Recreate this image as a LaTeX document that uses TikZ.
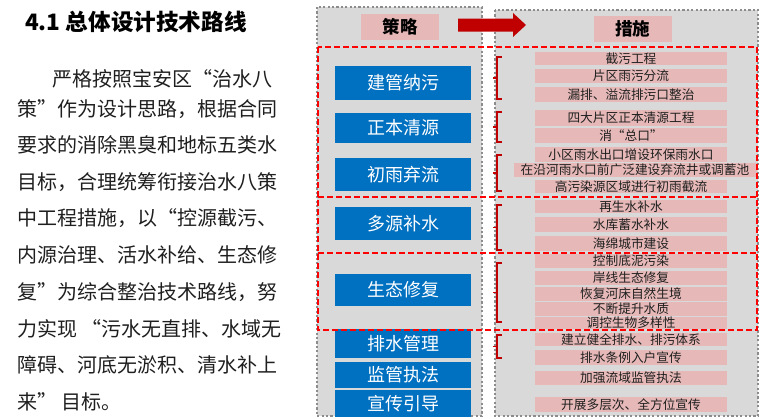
\documentclass[tikz,border=0pt]{standalone}
\usepackage{fontspec}
\setmainfont{Noto Sans CJK SC}
\definecolor{panelgrey}{HTML}{D9D9D9}
\definecolor{dotgrey}{HTML}{8C8C8C}
\definecolor{pinkfill}{HTML}{E6B9B8}
\definecolor{blueblk}{HTML}{0070C0}
\definecolor{darkred}{HTML}{C00000}
\definecolor{txt}{HTML}{1F1F1F}
\begin{document}
\begin{tikzpicture}[x=1pt,y=-1pt,
  panel/.style={fill=panelgrey, draw=dotgrey, line width=2.2pt, dash pattern=on 2.2pt off 2.2pt},
  headbox/.style={fill=pinkfill, inner sep=0pt, minimum width=78pt, minimum height=26pt, text height=13.3pt, text depth=0pt, font=\fontsize{17.5}{17.5}\selectfont\bfseries, text=black},
  stratbox/.style={fill=blueblk, inner sep=0pt, minimum width=136pt, text=white, text height=13.7pt, text depth=0pt, font=\fontsize{18}{18}\selectfont},
  meas/.style={fill=pinkfill, inner sep=0pt, text=txt, text height=9.6pt, text depth=0pt, font=\fontsize{12.7}{12.7}\selectfont},
  bodyline/.style={anchor=base west, inner sep=0pt, text=txt, font=\fontsize{20}{20}\selectfont},
  bracket/.style={draw=darkred, line width=1.2pt},
  blockarrow/.style={fill=darkred},
  reddash/.style={draw=red, line width=2.3pt, dash pattern=on 6pt off 3pt}
]
\useasboundingbox (0,0) rectangle (760,418);

% title and body text
\node[anchor=base west, inner sep=0pt, text=black, font=\fontsize{22.6}{22.6}\selectfont\bfseries] (title) at (25,30.6) {4.1 总体设计技术路线};
\node[bodyline] (l1) at (52,86) {严格按照宝安区“治水八};
\node[bodyline] (l2) at (17,116) {策”作为设计思路，根据合同};
\node[bodyline] (l3) at (17,152.5) {要求的消除黑臭和地标五类水};
\node[bodyline] (l4) at (17,189) {目标，合理统筹衔接治水八策};
\node[bodyline] (l5) at (17,225.5) {中工程措施，以“控源截污、};
\node[bodyline] (l6) at (17,262) {内源治理、活水补给、生态修};
\node[bodyline] (l7) at (17,299) {复”为综合整治技术路线，努};
\node[bodyline] (l8) at (17,336) {力实现 “污水无直排、水域无};
\node[bodyline] (l9) at (17,372.5) {障碍、河底无淤积、清水补上};
\node[bodyline] (l10) at (17,409) {来” 目标。};

% panels
\draw[panel] (317,7) rectangle (482,416);
\draw[panel] (495,10) rectangle (758,416);

% headers and arrow
\node[headbox] (ce) at (400,27) {策略};
\node[headbox] (cs) at (632.5,29) {措施};
\fill[blockarrow] (458,18.5) -- (513,18.5) -- (513,13) -- (526,25) -- (513,37) -- (513,31.5) -- (458,31.5) -- cycle;

% strategy boxes
\foreach \t/\b/\txt [count=\i] in {66/100/建管纳污, 113/143/正本清源, 158/191/初雨弃流, 207/240/多源补水, 274/306/生态修复, 329/358/排水管理, 362/388/监管执法, 390/417/宣传引导}{
  \node[stratbox, minimum height={(\b-\t)*1pt}] (s\i) at (403,{(\t+\b)/2}) {\txt};
}

% measure boxes
\foreach \t/\b/\txt [count=\i] in {52/65/截污工程, 69/83/片区雨污分流, 87/102/漏排、溢流排污口整治, 110/126/四大片区正本清源工程, 128/143/消“总口”, 147/162/小区雨水出口增设环保雨水口, 180/193/高污染源区域进行初雨截流, 200/213/再生水补水, 217/232/水库蓄水补水, 236/251/海绵城市建设, 254/268/控制底泥污染, 271/285/岸线生态修复, 287/301/恢复河床自然生境, 302/316/不断提升水质, 317/329/调控生物多样性, 333/346/建立健全排水、排污体系, 350/365/排水条例入户宣传, 371/385/加强流域监管执法, 397/412/开展多层次、全方位宣传}{
  \node[meas, minimum width=192pt, minimum height={(\b-\t)*1pt}] (m\i) at (631,{(\t+\b)/2}) {\txt};
}
\node[meas, minimum width=243pt, minimum height=14pt] (mw) at (635,170) {在沿河雨水口前广泛建设弃流井或调蓄池};

% brackets
\foreach \t/\b [count=\i] in {57/99, 112/142, 155/191, 205/250, 263/322, 335/358}{
  \draw[bracket] (502,\t) -- (497,\t) -- (497,\b) -- (502,\b);
  \draw[bracket] (497,{(\t+\b)/2}) -- (492.5,{(\t+\b)/2});
}

% red dashed groups
\draw[reddash] (318,47) rectangle (757,330);
\draw[reddash] (318,197) -- (757,197);
\draw[reddash] (318,253) -- (757,253);
\end{tikzpicture}
\end{document}
